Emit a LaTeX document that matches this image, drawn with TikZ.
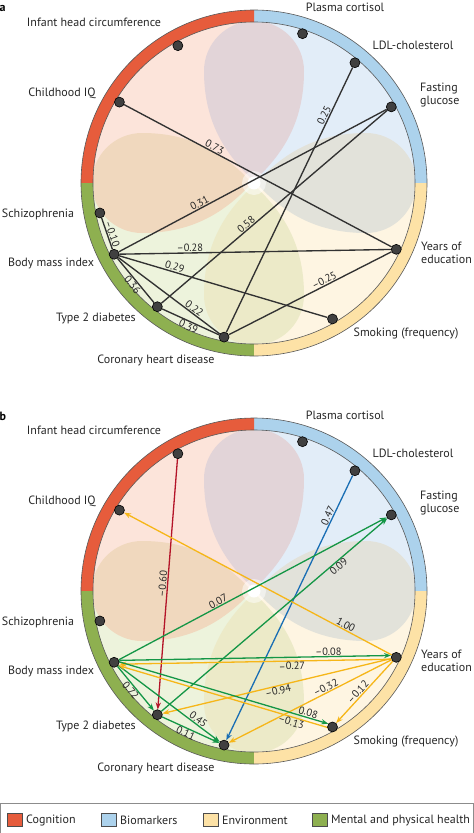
\documentclass[tikz,border=0pt]{standalone}
\usepackage{fontspec}
\setmainfont{PT Sans}
\usetikzlibrary{arrows.meta,calc}
\pgfdeclarelayer{bg}
\pgfdeclarelayer{edges}
\pgfsetlayers{bg,edges,main}
\definecolor{cogR}{RGB}{230,92,60}
\definecolor{bioB}{RGB}{172,210,236}
\definecolor{envY}{RGB}{253,226,166}
\definecolor{mphG}{RGB}{142,176,80}
\definecolor{bgR}{RGB}{252,228,218}
\definecolor{bgB}{RGB}{226,237,248}
\definecolor{bgY}{RGB}{254,245,226}
\definecolor{bgG}{RGB}{237,243,220}
\definecolor{petT}{RGB}{226,212,216}
\definecolor{petL}{RGB}{240,216,190}
\definecolor{petR}{RGB}{226,226,218}
\definecolor{petB}{RGB}{236,234,200}
\definecolor{edgeK}{RGB}{50,50,50}
\definecolor{arrR}{RGB}{180,20,40}
\definecolor{arrB}{RGB}{25,110,180}
\definecolor{arrY}{RGB}{246,182,24}
\definecolor{arrG}{RGB}{20,150,70}
\tikzset{
  dot/.style={circle, minimum size=10pt, inner sep=0pt, fill=black!75, draw=black, line width=0.6pt},
  vlab/.style={font=\fontsize{12}{13}\selectfont, text=black!85, inner sep=0pt, text height=8.5pt, text depth=2.5pt},
  num/.style={font=\fontsize{10.5}{11}\selectfont, inner sep=0.6pt, sloped, text=black!85},
  kline/.style={draw=edgeK, line width=1.35pt},
  carrow/.style={line width=1.3pt, -{Stealth[length=7pt,width=5.2pt]}},
  ringline/.style={draw=black!65, line width=0.6pt},
  legbox/.style={draw=black!70, line width=0.5pt, minimum width=15pt, minimum height=13pt, inner sep=0pt},
  leglab/.style={font=\fontsize{12}{13}\selectfont, text=black!85, anchor=west, inner sep=0pt},
}
\newcommand{\panelbase}[1]{%
  \begin{pgfonlayer}{bg}
   \fill[bgB] (0,0) -- (0:161) arc[start angle=0,end angle=90,radius=161] -- cycle;
   \fill[bgR] (0,0) -- (90:161) arc[start angle=90,end angle=180,radius=161] -- cycle;
   \fill[bgG] (0,0) -- (180:161) arc[start angle=180,end angle=270,radius=161] -- cycle;
   \fill[bgY] (0,0) -- (270:161) arc[start angle=270,end angle=360,radius=161] -- cycle;
   \begin{scope}
    \clip (0,0) circle[radius=160.5];
    \foreach \ang/\col in {90/petT,180/petL,0/petR,270/petB}{
      \fill[\col, rotate=\ang] (2,0) .. controls (28,28) and (60,50) .. (112,50) arc[start angle=90,end angle=-90,radius=50] .. controls (60,-50) and (28,-28) .. (2,0) -- cycle;
    }
    \fill[white, opacity=.5] (0,0) circle[radius=12];
    \fill[white] (0,0) circle[radius=6.5];
   \end{scope}
   \fill[bioB] (0:161) arc[start angle=0,end angle=90,radius=161] -- (90:173) arc[start angle=90,end angle=0,radius=173] -- cycle;
   \fill[cogR] (90:161) arc[start angle=90,end angle=180,radius=161] -- (180:173) arc[start angle=180,end angle=90,radius=173] -- cycle;
   \fill[mphG] (180:161) arc[start angle=180,end angle=270,radius=161] -- (270:173) arc[start angle=270,end angle=180,radius=173] -- cycle;
   \fill[envY] (270:161) arc[start angle=270,end angle=360,radius=161] -- (0:173) arc[start angle=360,end angle=270,radius=173] -- cycle;
   \draw[ringline] (0,0) circle[radius=161];
   \draw[ringline] (0,0) circle[radius=173];
  \end{pgfonlayer}
  \node[dot] (#1inf) at (119:157) {};
  \node[dot] (#1iq) at (149:157) {};
  \node[dot] (#1cor) at (72:157) {};
  \node[dot] (#1ldl) at (50:157) {};
  \node[dot] (#1fg) at (29:157) {};
  \node[dot] (#1yoe) at (-25:157) {};
  \node[dot] (#1smk) at (-60:157) {};
  \node[dot] (#1scz) at (191:157) {};
  \node[dot] (#1bmi) at (207:157) {};
  \node[dot] (#1tt) at (232:157) {};
  \node[dot] (#1chd) at (259:157) {};
  \node[vlab] (#1Linf) at (-160,160) {Infant head circumference};
  \node[vlab] (#1Liq) at (-192,90) {Childhood IQ};
  \node[vlab] (#1Lcor) at (91,175) {Plasma cortisol};
  \node[vlab] (#1Lldl) at (159,137) {LDL-cholesterol};
  \node[vlab, anchor=west, align=left] (#1Lfg) at (166,81.5) {Fasting\\glucose};
  \node[vlab, anchor=west, align=left] (#1Lyoe) at (167,-77.5) {Years of\\education};
  \node[vlab] (#1Lsmk) at (152,-150) {Smoking (frequency)};
  \node[vlab] (#1Lscz) at (-216,-31) {Schizophrenia};
  \node[vlab] (#1Lbmi) at (-203,-80) {Body mass index};
  \node[vlab] (#1Ltt) at (-158,-135) {Type 2 diabetes};
  \node[vlab] (#1Lchd) at (-98,-177) {Coronary heart disease};
}
\begin{document}
\begin{tikzpicture}[x=1pt,y=1pt]
\useasboundingbox (0,0) rectangle (474,-833);
\node[font=\bfseries\fontsize{12}{12}\selectfont, anchor=west, inner sep=0pt] (pa) at (-0.5,-8) {a};
\node[font=\bfseries\fontsize{12}{12}\selectfont, anchor=west, inner sep=0pt] (pb) at (-0.5,-416) {b};
% ---------------- panel a
\begin{scope}[shift={(254,-183)}]
\panelbase{a}
\begin{pgfonlayer}{edges}
\draw[kline] (aiq) -- node[num,above,pos=.33]{0.73} (ayoe);
\draw[kline] (aldl) -- node[num,above,pos=.19]{0.25} (achd);
\draw[kline] (abmi) -- node[num,above,pos=.31]{0.31} (afg);
\draw[kline] (att) -- node[num,above,pos=.39]{0.58} (afg);
\draw[kline] (ascz) -- node[num,above,pos=.56]{–0.10} (abmi);
\draw[kline] (abmi) -- node[num,above,pos=.26]{–0.28} (ayoe);
\draw[kline] (abmi) -- node[num,above,pos=.26]{0.29} (asmk);
\draw[kline] (abmi) -- node[num,below,pos=.52]{0.36} (att);
\draw[kline] (abmi) -- node[num,above,pos=.72]{0.22} (achd);
\draw[kline] (att) -- node[num,below,pos=.5]{0.39} (achd);
\draw[kline] (achd) -- node[num,above,pos=.60]{–0.25} (ayoe);
\end{pgfonlayer}
\end{scope}
% ---------------- panel b
\begin{scope}[shift={(254,-591)}]
\panelbase{b}
\begin{pgfonlayer}{edges}
\draw[carrow, draw=arrR] (binf) -- node[num,above,pos=.5]{–0.60} (btt);
\draw[carrow, draw=arrB] (bldl) -- node[num,above,pos=.16]{0.47} (bchd);
\draw[carrow, draw=arrY] (byoe) -- node[num,above,pos=.18]{1.00} (biq);
\draw[carrow, draw=arrG] (bbmi) -- node[num,above,pos=.38]{0.07} (bfg);
\draw[carrow, draw=arrG] (btt) -- node[num,below,pos=.77]{0.09} (bfg);
\draw[carrow, draw=arrG] ([yshift=1.9pt]bbmi.east) -- node[num,above,pos=.77]{–0.08} ([yshift=1.9pt]byoe.west);
\draw[carrow, draw=arrY] ([yshift=-1.9pt]byoe.west) -- node[num,below,pos=.365]{–0.27} ([yshift=-1.9pt]bbmi.east);
\draw[carrow, draw=arrY] (byoe) -- node[num,below,pos=.5]{–0.94} (btt);
\draw[carrow, draw=arrY] (byoe) -- node[num,above,pos=.39]{–0.32} (bchd);
\draw[carrow, draw=arrY] (byoe) -- node[num,above,pos=.55]{–0.12} (bsmk);
\draw[carrow, draw=arrG] (bbmi) -- node[num,below,pos=.47]{0.72} (btt);
\draw[carrow, draw=arrG] (bbmi) -- node[num,above,pos=.76]{0.45} (bchd);
\draw[carrow, draw=arrG] (btt) -- node[num,below,pos=.45]{0.11} (bchd);
\draw[carrow, draw=arrG, shorten >=5pt] ($(bbmi)!1.9pt!90:(bsmk)$) -- node[num,above,pos=.88]{0.08} ($(bsmk)!1.9pt!-90:(bbmi)$);
\draw[carrow, draw=arrY, shorten >=5pt] ($(bsmk)!1.9pt!90:(bbmi)$) -- node[num,below,pos=.18]{–0.13} ($(bbmi)!1.9pt!-90:(bsmk)$);
\end{pgfonlayer}
\end{scope}
% ---------------- legend
\draw[black!45, line width=.6pt] (0.5,-836) -- (0.5,-803) -- (473.5,-803) -- (473.5,-836);
\node[legbox, fill=cogR] (lg1) at (14.5,-819.5) {};
\node[leglab] (lt1) at (26,-820) {Cognition};
\node[legbox, fill=bioB] (lg2) at (108.5,-819.5) {};
\node[leglab] (lt2) at (120,-820) {Biomarkers};
\node[legbox, fill=envY] (lg3) at (210.5,-819.5) {};
\node[leglab] (lt3) at (222,-820) {Environment};
\node[legbox, fill=mphG] (lg4) at (319.5,-819.5) {};
\node[leglab] (lt4) at (331,-820) {Mental and physical health};
\end{tikzpicture}
\end{document}
